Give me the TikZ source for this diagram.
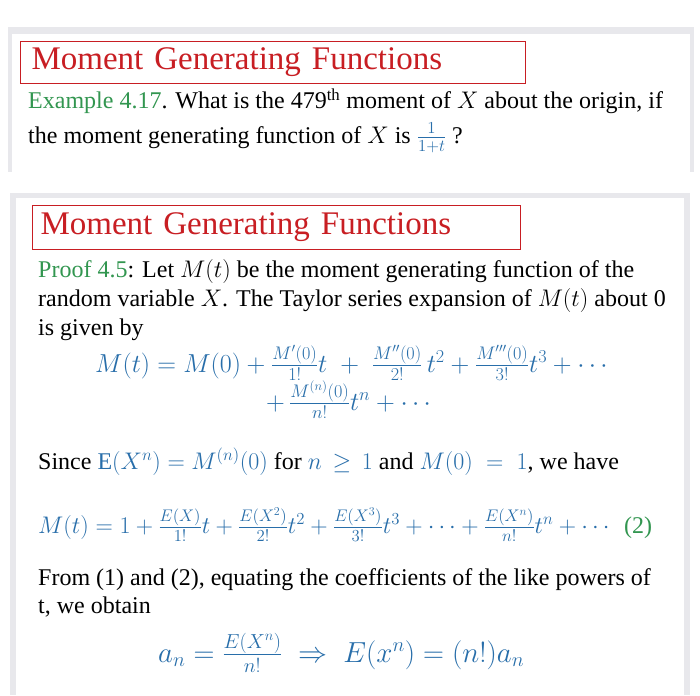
\RequirePackage{fix-cm}
\documentclass[tikz,border=0pt]{standalone}
\usepackage{amsmath}
\usepackage{fontspec}
\setmainfont{Liberation Serif}
\definecolor{mblue}{RGB}{40,110,170}
\definecolor{tred}{RGB}{200,30,35}
\definecolor{egreen}{RGB}{50,150,80}
\definecolor{pgray}{RGB}{232,232,236}
\newcommand{\B}[1]{\textcolor{mblue}{$#1$}}
\begin{document}
\begin{tikzpicture}[x=1pt,y=-1pt,
  txt/.style={anchor=base west,inner sep=0pt,font=\fontsize{24}{27}\selectfont},
  ttl/.style={draw=tred,line width=1pt,text=tred,anchor=north west,inner sep=0pt,font=\fontsize{33}{36}\selectfont}]
\useasboundingbox (0,0) rectangle (700,695);
\fill[white] (0,0) rectangle (700,695);
% panels
\fill[pgray] (8,27) rectangle (694,34);
\fill[pgray] (8,27) rectangle (12,172);
\fill[pgray] (690,27) rectangle (694,172);
\fill[pgray] (10,193) rectangle (690,198);
\fill[pgray] (10,193) rectangle (16,695);
\fill[pgray] (684,193) rectangle (690,695);
% titles
\node[ttl,minimum width=505,minimum height=42,text width=495,align=left] (t1) at (20,41) {\hspace{6pt}Moment Generating Functions};
\node[ttl,minimum width=488,minimum height=44,text width=480,align=left] (t2) at (32,205) {\hspace{4pt}Moment Generating Functions};
% example
\node[txt] (e1) at (28,109) {\textcolor{egreen}{Example 4.17}. What is the 479\textsuperscript{th} moment of $X$ about the origin, if};
\node[txt] (e2) at (28,143) {the moment generating function of $X$ is \textcolor{mblue}{$\frac{1}{1+t}$} ?};
% proof
\node[txt] (p1) at (38,277) {\textcolor{egreen}{Proof 4.5}: Let $M(t)$ be the moment generating function of the};
\node[txt] (p2) at (38,306) {random variable $X$. The Taylor series expansion of $M(t)$ about 0};
\node[txt] (p3) at (38,335) {is given by};
\node[txt,font=\fontsize{26}{30}\selectfont] (q1) at (95,372) {\B{M(t)=M(0)+\frac{M'(0)}{1!}t\;+\;\frac{M''(0)}{2!}\,t^2+\frac{M'''(0)}{3!}t^3+\cdots}};
\node[txt,font=\fontsize{26}{30}\selectfont] (q2) at (266,410) {\B{+\,\frac{M^{(n)}(0)}{n!}t^n+\cdots}};
\node[txt] (s1) at (38,469) {Since \B{\mathrm{E}(X^n)=M^{(n)}(0)} for \B{n\,\ge\,1} and \B{M(0)\;=\;1}, we have};
\node[txt,font=\fontsize{24}{28}\selectfont] (q3) at (38,533) {\B{M(t)=1+\frac{E(X)}{1!}t+\frac{E(X^2)}{2!}t^2+\frac{E(X^3)}{3!}t^3+\cdots+\frac{E(X^n)}{n!}t^n+\cdots}};
\node[txt,text=egreen] (eq2) at (624,533) {(2)};
\node[txt] (f1) at (38,585) {From (1) and (2), equating the coefficients of the like powers of};
\node[txt] (f2) at (38,613) {t, we obtain};
\node[txt,font=\fontsize{29}{34}\selectfont] (q4) at (158,662) {\B{a_n=\frac{E(X^n)}{n!}\;\Rightarrow\;E(x^n)=(n!)a_n}};
\end{tikzpicture}
\end{document}
